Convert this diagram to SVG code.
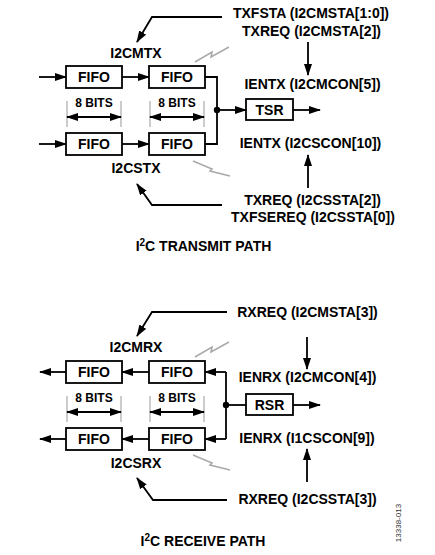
<svg xmlns="http://www.w3.org/2000/svg" width="435" height="555" viewBox="0 0 435 555">
<defs>
<marker id="ah" markerUnits="userSpaceOnUse" markerWidth="12" markerHeight="9" refX="11" refY="4.5" orient="auto-start-reverse">
<path d="M0,0.5 L12,4.5 L0,8.5 z" fill="#000"/>
</marker>
<style>
text{font-family:"Liberation Sans",Arial,sans-serif;font-weight:bold;fill:#000;}
.t{font-size:14px;}
.m{text-anchor:middle;}
.b{font-size:12px;text-anchor:middle;}
.box{fill:#fff;stroke:#000;stroke-width:1.8;}
.ln{fill:none;stroke:#000;stroke-width:1.8;}
.ar{fill:none;stroke:#000;stroke-width:1.8;marker-end:url(#ah);}
.dbl{fill:none;stroke:#000;stroke-width:1.8;marker-start:url(#ah);marker-end:url(#ah);}
.tick{stroke:#aaa;stroke-width:1.2;}
.bolt{fill:none;stroke:#aaa;stroke-width:1.6;}
</style>
</defs>
<rect width="435" height="555" fill="#fff"/>

<!-- ===== TRANSMIT PATH ===== -->
<g id="connectors-tx">
<line class="ar" x1="39" y1="77" x2="66" y2="77"/>
<line class="ar" x1="122" y1="77" x2="149" y2="77"/>
<line class="ar" x1="39" y1="144" x2="66" y2="144"/>
<line class="ar" x1="122" y1="144" x2="149" y2="144"/>
<polyline class="ln" points="205,77 217,77 217,144 205,144"/>
<circle cx="217" cy="110" r="3.2" fill="#000"/>
<line class="ar" x1="217" y1="110" x2="246" y2="110"/>
<line class="ar" x1="293" y1="110" x2="320" y2="110"/>
<path class="ar" d="M222,17 H152 L137,42"/>
<path class="ar" d="M222,205 H152 L137,184"/>
<line class="ar" x1="308" y1="42" x2="308" y2="75"/>
<line class="ar" x1="308" y1="188" x2="308" y2="155"/>
<line class="tick" x1="67" y1="101" x2="67" y2="127"/>
<line class="tick" x1="121" y1="101" x2="121" y2="127"/>
<line class="tick" x1="150" y1="101" x2="150" y2="127"/>
<line class="tick" x1="204" y1="101" x2="204" y2="127"/>
<line class="dbl" x1="67" y1="117" x2="121" y2="117"/>
<line class="dbl" x1="150" y1="117" x2="204" y2="117"/>
<polyline class="bolt" points="195,62 212,52 211,57 229,47"/>
<polyline class="bolt" points="193,161 212,169 210,171 230,176"/>
</g>

<g id="tx-fifo-m1"><rect class="box" x="66" y="66" width="56" height="22"/><text class="t m" x="94" y="82">FIFO</text></g>
<g id="tx-fifo-m2"><rect class="box" x="149" y="66" width="56" height="22"/><text class="t m" x="177" y="82">FIFO</text></g>
<g id="tx-fifo-s1"><rect class="box" x="66" y="133" width="56" height="22"/><text class="t m" x="94" y="149">FIFO</text></g>
<g id="tx-fifo-s2"><rect class="box" x="149" y="133" width="56" height="22"/><text class="t m" x="177" y="149">FIFO</text></g>
<g id="tsr"><rect class="box" x="246" y="99" width="47" height="21"/><text class="t m" x="269.5" y="115">TSR</text></g>
<g id="tx-labels">
<text class="b" x="94" y="107">8 BITS</text>
<text class="b" x="177" y="107">8 BITS</text>
<text class="t m" x="136" y="58">I2CMTX</text>
<text class="t m" x="136" y="173">I2CSTX</text>
<text class="t m" x="311" y="18">TXFSTA (I2CMSTA[1:0])</text>
<text class="t m" x="311.5" y="36">TXREQ (I2CMSTA[2])</text>
<text class="t m" x="312.5" y="89">IENTX (I2CMCON[5])</text>
<text class="t m" x="310.5" y="148">IENTX (I2CSCON[10])</text>
<text class="t m" x="312.5" y="205">TXREQ (I2CSSTA[2])</text>
<text class="t m" x="313" y="222">TXFSEREQ (I2CSSTA[0])</text>
<text class="t m" x="203.5" y="251">I<tspan font-size="10" dy="-5">2</tspan><tspan dy="5">C TRANSMIT PATH</tspan></text>
</g>

<!-- ===== RECEIVE PATH ===== -->
<g id="connectors-rx">
<line class="ar" x1="66" y1="372" x2="40" y2="372"/>
<line class="ar" x1="149" y1="372" x2="122" y2="372"/>
<line class="ar" x1="66" y1="439" x2="40" y2="439"/>
<line class="ar" x1="149" y1="439" x2="122" y2="439"/>
<line class="ln" x1="226" y1="372" x2="226" y2="439"/>
<line class="ar" x1="226" y1="372" x2="205" y2="372"/>
<line class="ar" x1="226" y1="439" x2="205" y2="439"/>
<circle cx="226" cy="405" r="3.2" fill="#000"/>
<line class="ln" x1="226" y1="405" x2="246" y2="405"/>
<line class="ar" x1="293" y1="405" x2="320" y2="405"/>
<path class="ar" d="M227,312 H152 L137,336"/>
<path class="ar" d="M227,500 H153 L137,478"/>
<line class="ar" x1="307" y1="337" x2="307" y2="369"/>
<line class="ar" x1="307" y1="482" x2="307" y2="449"/>
<line class="tick" x1="67" y1="396" x2="67" y2="422"/>
<line class="tick" x1="121" y1="396" x2="121" y2="422"/>
<line class="tick" x1="150" y1="396" x2="150" y2="422"/>
<line class="tick" x1="204" y1="396" x2="204" y2="422"/>
<line class="dbl" x1="67" y1="412" x2="121" y2="412"/>
<line class="dbl" x1="150" y1="412" x2="204" y2="412"/>
<polyline class="bolt" points="195,357 212,347 211,352 229,342"/>
<polyline class="bolt" points="193,455 212,463 210,465 230,470"/>
</g>

<g id="rx-fifo-m1"><rect class="box" x="66" y="361" width="56" height="22"/><text class="t m" x="94" y="377">FIFO</text></g>
<g id="rx-fifo-m2"><rect class="box" x="149" y="361" width="56" height="22"/><text class="t m" x="177" y="377">FIFO</text></g>
<g id="rx-fifo-s1"><rect class="box" x="66" y="428" width="56" height="22"/><text class="t m" x="94" y="444">FIFO</text></g>
<g id="rx-fifo-s2"><rect class="box" x="149" y="428" width="56" height="22"/><text class="t m" x="177" y="444">FIFO</text></g>
<g id="rsr"><rect class="box" x="246" y="394" width="47" height="21"/><text class="t m" x="269.5" y="410">RSR</text></g>
<g id="rx-labels">
<text class="b" x="94" y="402">8 BITS</text>
<text class="b" x="177" y="402">8 BITS</text>
<text class="t m" x="136" y="352">I2CMRX</text>
<text class="t m" x="136" y="468">I2CSRX</text>
<text class="t m" x="307.5" y="317">RXREQ (I2CMSTA[3])</text>
<text class="t m" x="307.5" y="382">IENRX (I2CMCON[4])</text>
<text class="t m" x="307" y="443">IENRX (I1CSCON[9])</text>
<text class="t m" x="307.5" y="504">RXREQ (I2CSSTA[3])</text>
<text class="t m" x="203" y="546">I<tspan font-size="10" dy="-5">2</tspan><tspan dy="5">C RECEIVE PATH</tspan></text>
<text x="401" y="523" transform="rotate(-90 401 523)" style="font-size:8px;font-weight:normal;text-anchor:middle;fill:#333">13338-013</text>
</g>
</svg>
